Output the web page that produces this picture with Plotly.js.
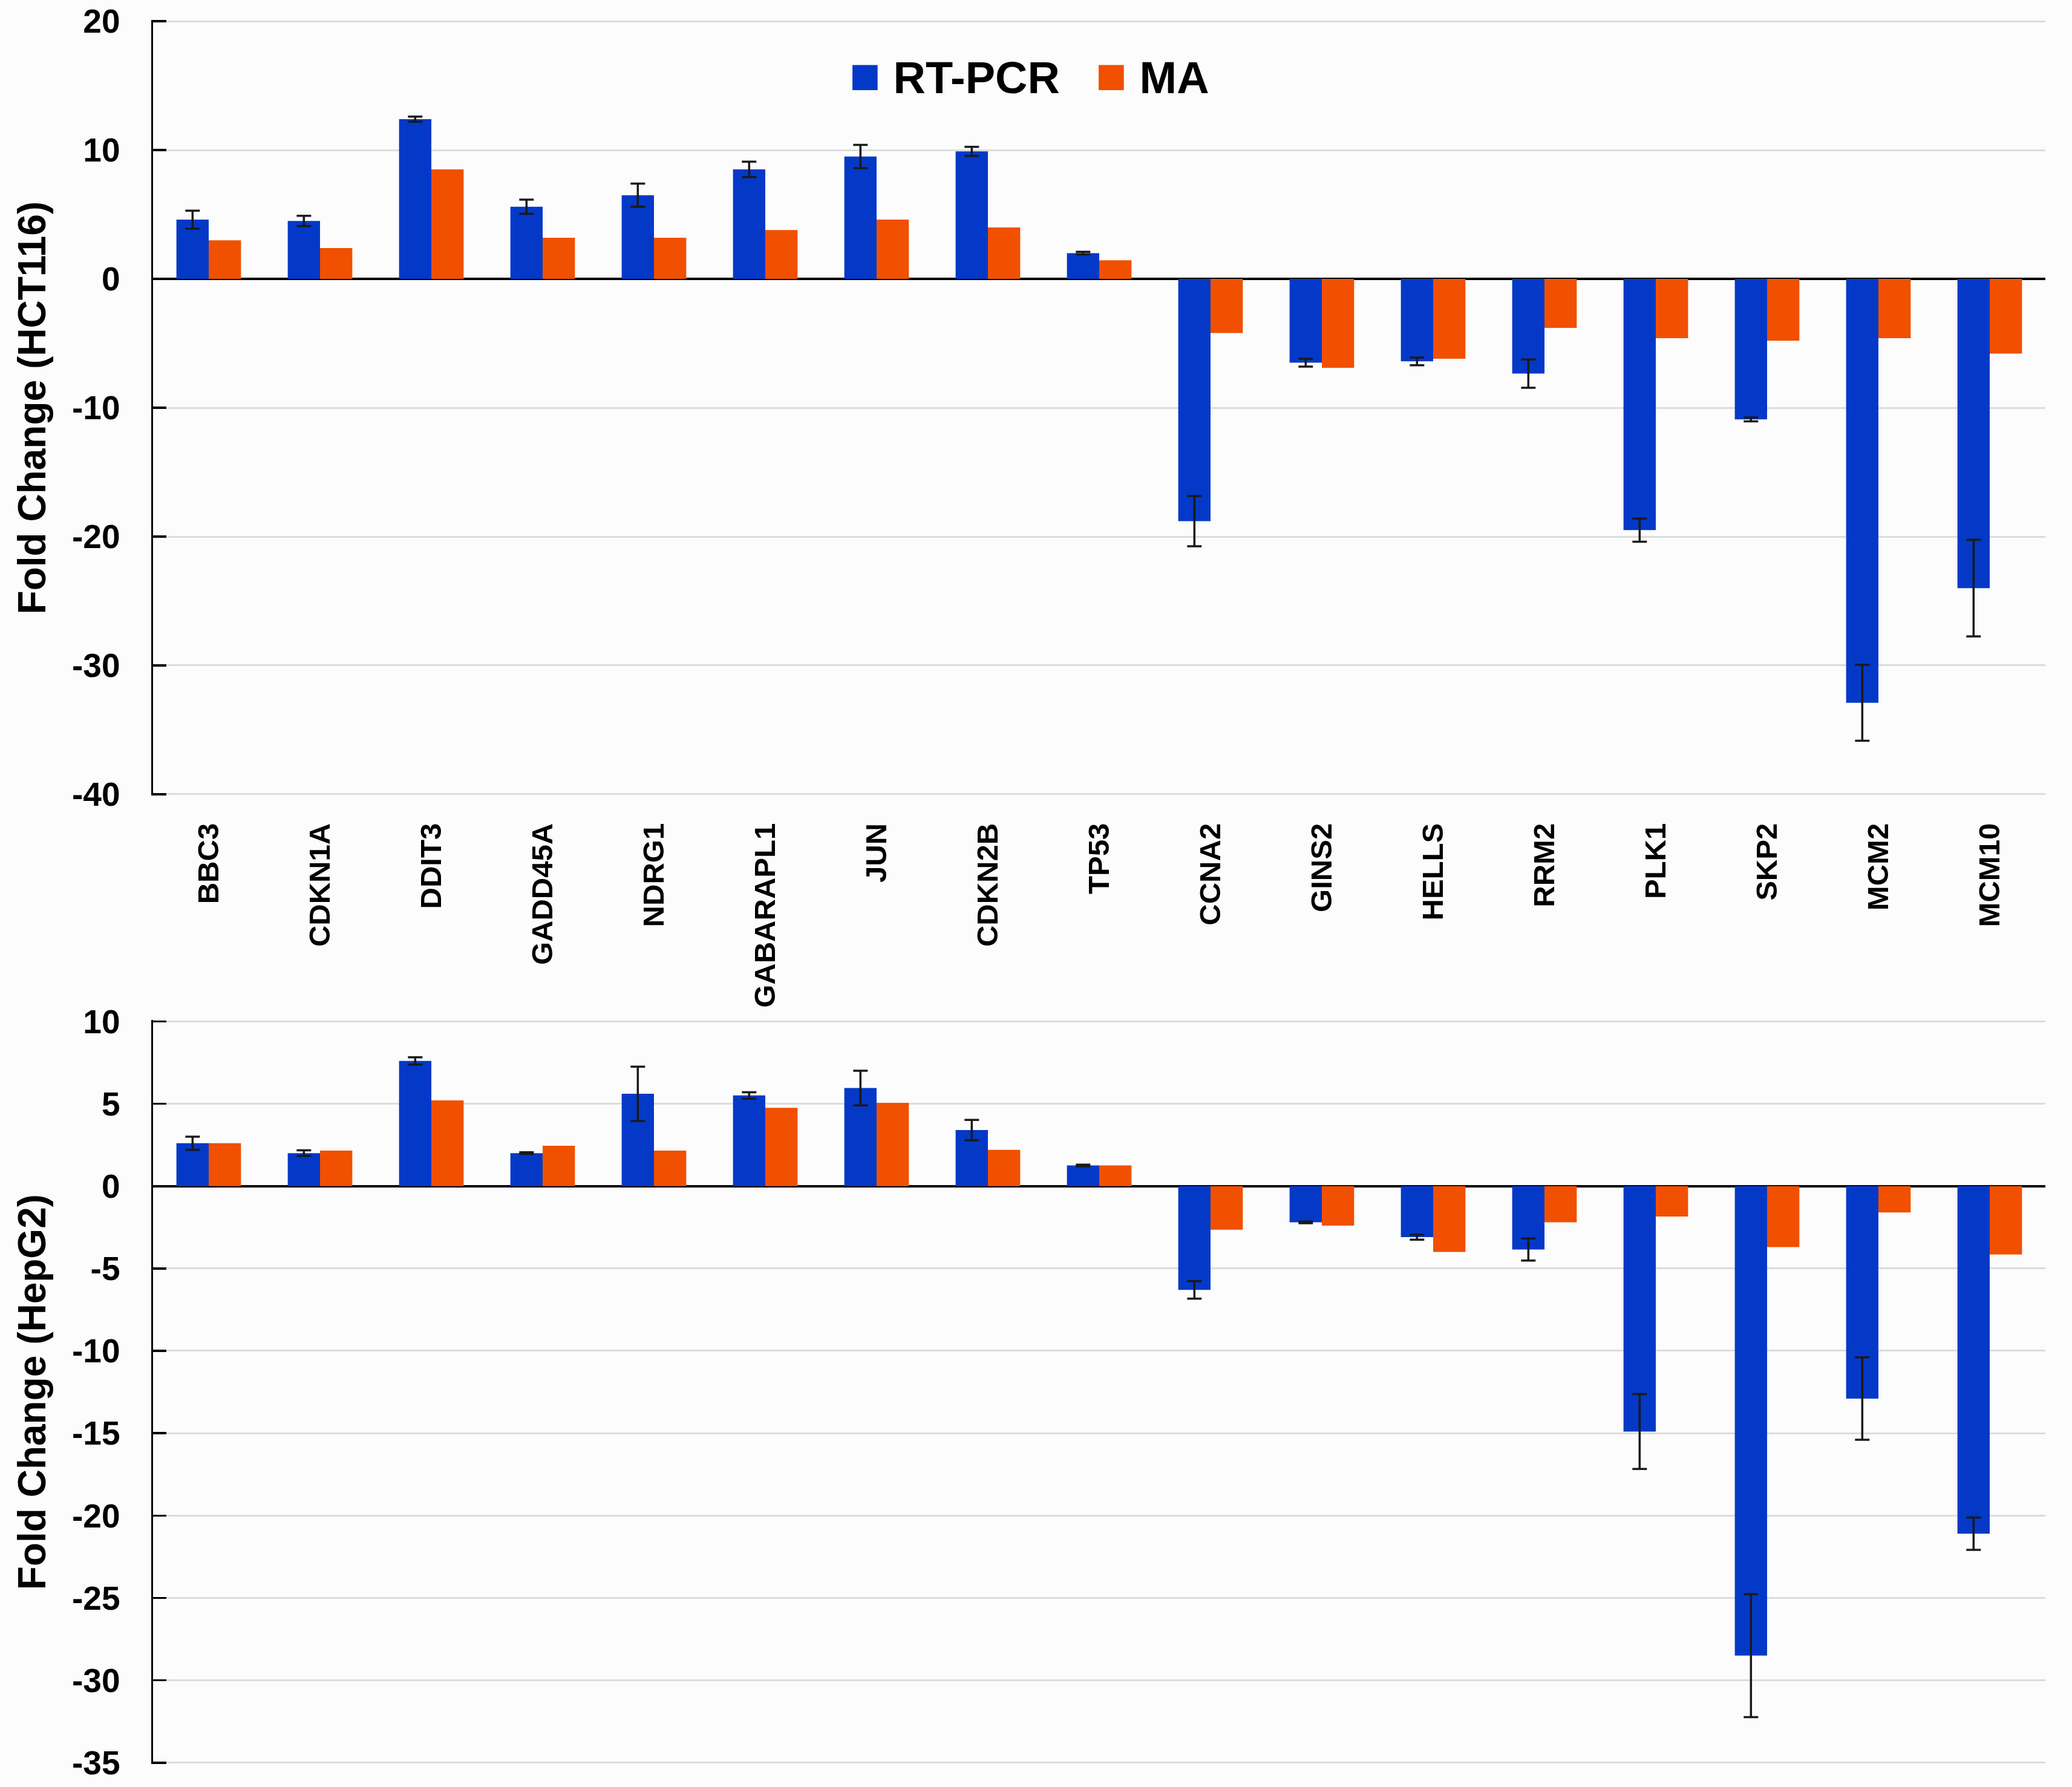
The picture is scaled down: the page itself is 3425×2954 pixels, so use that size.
<!DOCTYPE html>
<html>
<head>
<meta charset="utf-8">
<script src="https://cdn.plot.ly/plotly-3.0.1.min.js"></script>
<style>html,body{margin:0;padding:0;background:#fcfcfc;}</style>
</head>
<body>
<div id="chart" style="width:3425px;height:2954px;"></div>
<script>
// ---- data ----
var genes = ['BBC3','CDKN1A','DDIT3','GADD45A','NDRG1','GABARAPL1','JUN','CDKN2B','TP53','CCNA2','GINS2','HELLS','RRM2','PLK1','SKP2','MCM2','MCM10'];

var hctRT    = [4.6, 4.5, 12.4, 5.6, 6.5, 8.5, 9.5, 9.9, 2.0, -18.8, -6.5, -6.4, -7.35, -19.5, -10.9, -32.9, -24.0];
var hctRTerr = [0.7, 0.4, 0.2, 0.55, 0.9, 0.6, 0.9, 0.35, 0.1, 1.95, 0.3, 0.3, 1.1, 0.9, 0.15, 2.95, 3.75];
var hctMA    = [3.0, 2.4, 8.5, 3.2, 3.2, 3.8, 4.6, 4.0, 1.45, -4.2, -6.9, -6.2, -3.8, -4.6, -4.8, -4.6, -5.8];

var hepRT    = [2.6, 2.0, 7.6, 2.0, 5.6, 5.5, 5.95, 3.4, 1.25, -6.3, -2.2, -3.1, -3.85, -14.9, -28.5, -12.9, -21.1];
var hepRTerr = [0.4, 0.17, 0.22, 0.05, 1.65, 0.2, 1.05, 0.62, 0.05, 0.53, 0.05, 0.15, 0.67, 2.27, 3.73, 2.5, 0.98];
var hepMA    = [2.6, 2.15, 5.2, 2.45, 2.15, 4.75, 5.05, 2.2, 1.25, -2.65, -2.4, -4.0, -2.2, -1.85, -3.7, -1.6, -4.15];

var seriesNames = ['RT-PCR', 'MA'];
var yTitles = ['Fold Change (HCT116)', 'Fold Change (HepG2)'];

var hctTickVals = [20, 10, 0, -10, -20, -30, -40];
var hctTickText = ['20', '10', '0', '-10', '-20', '-30', '-40'];
var hepTickVals = [10, 5, 0, -5, -10, -15, -20, -25, -30, -35];
var hepTickText = ['10', '5', '0', '-5', '-10', '-15', '-20', '-25', '-30', '-35'];

// ---- styles ----
var BLUE = '#0439c8';
var ORANGE = '#f05000';
var FONT = 'Liberation Sans, Arial, Helvetica, sans-serif';

function errY(arr) {
  return {type: 'data', array: arr, visible: true, color: '#1a1a1a', thickness: 3.5, width: 12};
}

var traces = [
  {type: 'bar', name: seriesNames[0], x: genes, y: hctRT, error_y: errY(hctRTerr),
   marker: {color: BLUE}, xaxis: 'x', yaxis: 'y', showlegend: false},
  {type: 'bar', name: seriesNames[1], x: genes, y: hctMA,
   marker: {color: ORANGE}, xaxis: 'x', yaxis: 'y', showlegend: false},
  {type: 'bar', name: seriesNames[0], x: genes, y: hepRT, error_y: errY(hepRTerr),
   marker: {color: BLUE}, xaxis: 'x2', yaxis: 'y2', showlegend: false},
  {type: 'bar', name: seriesNames[1], x: genes, y: hepMA,
   marker: {color: ORANGE}, xaxis: 'x2', yaxis: 'y2', showlegend: false}
];

function yAxis(domain, range, tv, tt, title) {
  return {
    domain: domain, range: range,
    tickmode: 'array', tickvals: tv, ticktext: tt,
    showline: true, linecolor: '#000', linewidth: 3.5,
    ticks: 'inside', ticklen: 22, tickwidth: 3.5, tickcolor: '#000',
    showgrid: true, gridcolor: '#dcdcdc', gridwidth: 3,
    zeroline: true, zerolinecolor: '#000', zerolinewidth: 4,
    ticklabelstandoff: 40, ticklabeloverflow: 'allow',
    tickfont: {family: FONT, size: 55, color: '#000', weight: 'bold'},
    title: {text: title, standoff: 23, font: {family: FONT, size: 64, color: '#000', weight: 'bold'}},
    fixedrange: true
  };
}

var layout = {
  width: 3425, height: 2954,
  margin: {l: 253, r: 44, t: 33, b: 38},
  paper_bgcolor: '#fcfcfc', plot_bgcolor: '#fcfcfc',
  barmode: 'group', bargap: 0.42, bargroupgap: 0,
  font: {family: FONT, color: '#000', weight: 'bold'},
  xaxis: {
    anchor: 'y', domain: [0, 1], showline: false, showgrid: false, zeroline: false, ticks: '',
    tickangle: -90, ticklabelstandoff: 35,
    tickfont: {family: FONT, size: 49, color: '#000', weight: 'bold'}
  },
  yaxis: yAxis([0.5553, 1], [-40.1, 20.1], hctTickVals, hctTickText, yTitles[0]),
  xaxis2: {
    anchor: 'y2', domain: [0, 1], showline: false, showgrid: false, zeroline: false, ticks: '',
    showticklabels: false
  },
  yaxis2: yAxis([0, 0.4266], [-35.08, 10.08], hepTickVals, hepTickText, yTitles[1]),
  annotations: [
    {xref: 'paper', yref: 'paper', x: 0.3673, y: 0.9683, xanchor: 'left', yanchor: 'middle', showarrow: false,
     text: '<span style="color:' + BLUE + ';font-size:86px">■</span> ' + seriesNames[0],
     font: {family: FONT, size: 74, color: '#000', weight: 'bold'}},
    {xref: 'paper', yref: 'paper', x: 0.4975, y: 0.9683, xanchor: 'left', yanchor: 'middle', showarrow: false,
     text: '<span style="color:' + ORANGE + ';font-size:86px">■</span> ' + seriesNames[1],
     font: {family: FONT, size: 74, color: '#000', weight: 'bold'}}
  ]
};

Plotly.newPlot('chart', traces, layout, {displayModeBar: false, staticPlot: true});
</script>
</body>
</html>
